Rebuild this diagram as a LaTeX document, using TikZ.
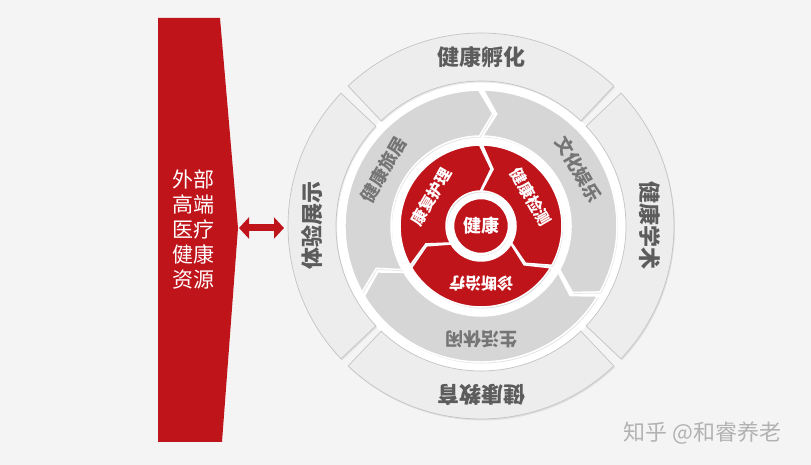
\documentclass[tikz,border=0pt]{standalone}
\usepackage{fontspec}
\newfontfamily\cjk{Noto Sans CJK SC}
\usetikzlibrary{arrows.meta, shadows}
\definecolor{healthred}{HTML}{C0141B}
\definecolor{ringlight}{HTML}{EDEDED}
\definecolor{ringmid}{HTML}{D6D6D6}
\definecolor{ringedge}{HTML}{C4C4C4}
\definecolor{labelgray}{HTML}{5C5C5C}
\definecolor{bggray}{HTML}{F4F4F4}

\begin{document}
\begin{tikzpicture}[x=1pt, y=1pt,
    outerseg/.style={fill=ringlight, draw=ringedge, line width=0.7pt,
      drop shadow={opacity=0.18, shadow xshift=1pt, shadow yshift=-1.5pt}},
    midseg/.style={fill=ringmid, draw=white, line width=1.5pt,
      drop shadow={opacity=0.2, shadow xshift=1pt, shadow yshift=-1.5pt}},
    redseg/.style={fill=healthred, draw=white, line width=1.5pt,
      drop shadow={opacity=0.25, shadow xshift=1pt, shadow yshift=-1.5pt}},
    outerlabel/.style={font=\cjk\bfseries\fontsize{22pt}{24pt}\selectfont, text=labelgray},
    midlabel/.style={font=\cjk\bfseries\fontsize{18pt}{20pt}\selectfont, text=labelgray!85},
    redlabel/.style={font=\cjk\bfseries\fontsize{16pt}{18pt}\selectfont, text=white, inner sep=1pt},
    dblarrow/.style={healthred, line width=7pt,
      {Triangle[length=10pt, width=21pt]}-{Triangle[length=10pt, width=21pt]}}]
  \fill[bggray] (0,0) rectangle (811,465);
  \useasboundingbox (0,0) rectangle (811,465);

  % Left resource banner
  \fill[healthred] (158,447) -- (220,447) -- (238,237) -- (222,23) -- (158,23) -- cycle;
  \node[font=\cjk\fontsize{21pt}{25pt}\selectfont, text=white, align=center] (resources) at (193,235)
    {外部\\高端\\医疗\\健康\\资源};
  \coordinate (bannertip) at (239,237);
  \coordinate (ringleft) at (284,237);
  \draw[dblarrow] (bannertip) -- (ringleft);

  \begin{scope}[shift={(481,239)}]
    % Outer ring
    \fill[white] (0,0) circle (145);
    \foreach \a/\txt/\nm in {90/健康孵化/incubate, 0/健康学术/academic, 270/健康教育/education, 180/体验展示/showcase} {
      \path[outerseg] (\a-43.5:193) arc[start angle=\a-43.5, end angle=\a+43.5, radius=193]
        -- (\a+43.5:145) arc[start angle=\a+43.5, end angle=\a-43.5, radius=145] -- cycle;
      \node[outerlabel, rotate=\a-90] (\nm) at (\a:169) {\txt};
    }

    % Middle ring of arrows
    \foreach \m/\txt/\nm in {150/健康旅居/travel, 30/文化娱乐/culture, 270/生活休闲/leisure} {
      \path[midseg] (\m+59:136) arc[start angle=\m+59, end angle=\m-59, radius=136]
        -- (\m-66:113) -- (\m-59:90) arc[start angle=\m-59, end angle=\m+59, radius=90]
        -- (\m+52:113) -- cycle;
      \node[midlabel, rotate=\m-90] (\nm) at (\m:113) {\txt};
    }

    % Red ring of arrows
    \foreach \m/\txt/\nm in {150/康复护理/rehab, 30/健康检测/checkup, 270/诊断治疗/treatment} {
      \path[redseg] (\m+59:81) arc[start angle=\m+59, end angle=\m-59, radius=81]
        -- (\m-70:58) -- (\m-59:35) arc[start angle=\m-59, end angle=\m+59, radius=35]
        -- (\m+48:58) -- cycle;
      \node[redlabel, rotate=\m-90] (\nm) at (\m:58) {\txt};
    }

    \node[circle, fill=healthred, draw=white, line width=2.5pt, minimum size=56pt, inner sep=0pt,
      text=white, font=\cjk\bfseries\fontsize{18pt}{20pt}\selectfont,
      drop shadow={opacity=0.25, shadow xshift=1pt, shadow yshift=-1.5pt}] (core) at (0,0) {健康};
  \end{scope}

  \node[font=\cjk\fontsize{22pt}{24pt}\selectfont, text=gray!60, anchor=west] (mark) at (620,32)
    {知乎 @和睿养老};
\end{tikzpicture}
\end{document}
